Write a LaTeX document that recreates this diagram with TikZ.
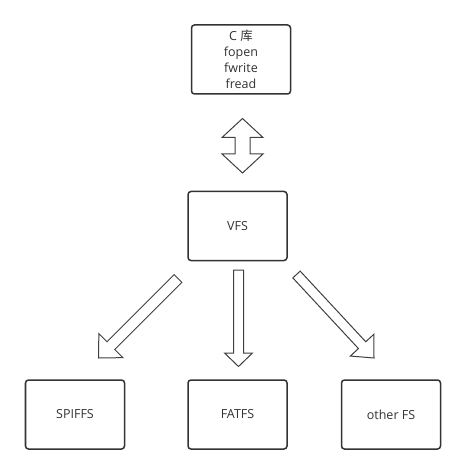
\documentclass[tikz,border=0pt]{standalone}
\usepackage{fontspec}
\setmainfont{Open Sans}
\newfontfamily\cjk{Noto Sans CJK SC}
\usetikzlibrary{calc}

\tikzset{
  fsbox/.style={draw=black!80, line width=1.5bp, rounded corners=3bp, fill=white,
    minimum width=99bp, minimum height=69bp, align=center,
    font=\fontsize{12.5bp}{16bp}\selectfont, text=black!80},
  blockarrow/.style={draw=black!75, line width=1bp, fill=white, line join=miter}
}

%block arrow: from, to, half shaft, half head, head length
\newcommand{\blockarrow}[5]{%
  \coordinate (ahead) at ($(#2)!#5!(#1)$);
  \draw[blockarrow] ($(#1)!#3!90:(#2)$) -- ($(ahead)!#3!90:(#2)$) -- ($(ahead)!#4!90:(#2)$)
    -- (#2) -- ($(ahead)!#4!-90:(#2)$) -- ($(ahead)!#3!-90:(#2)$) -- ($(#1)!#3!-90:(#2)$) -- cycle;
}

\begin{document}
\begin{tikzpicture}[x=1bp,y=-1bp]
		\useasboundingbox[fill=white] (0,0) rectangle (466,475);

		%boxes
		\node[fsbox] (clib) at (241,59.5) {C {\cjk 库}\\fopen\\fwrite\\fread};
		\node[fsbox] (vfs) at (237.5,226) {VFS};
		\foreach \x/\n/\t in {75/spiffs/SPIFFS, 237.5/fatfs/FATFS, 391/otherfs/other FS}
		\node[fsbox] (\n) at (\x,414.5) {\t};

		%double arrow between C lib and VFS
		\coordinate (d1) at (242.5,118.5);
		\coordinate (d2) at (242.5,173);
		\coordinate (h1) at ($(d1)!19bp!(d2)$);
		\coordinate (h2) at ($(d2)!19bp!(d1)$);
		\draw[blockarrow] (d1) -- ($(h1)!20.5bp!90:(d2)$) -- ($(h1)!7.5bp!90:(d2)$) -- ($(h2)!7.5bp!-90:(d1)$)
			-- ($(h2)!20.5bp!-90:(d1)$) -- (d2) -- ($(h2)!20.5bp!90:(d1)$) -- ($(h2)!7.5bp!90:(d1)$)
			-- ($(h1)!7.5bp!-90:(d2)$) -- ($(h1)!20.5bp!-90:(d2)$) -- cycle;

		%arrows from VFS down
		\coordinate (l0) at (178,278.5);
		\coordinate (l1) at (98.5,358);
		\coordinate (m0) at (238.5,270);
		\coordinate (m1) at (238.5,366.5);
		\coordinate (r0) at (296.5,274.5);
		\coordinate (r1) at (374,358);
		\blockarrow{l0}{l1}{5.5bp}{17bp}{17.5bp}
		\blockarrow{m0}{m1}{5bp}{14bp}{13.5bp}
		\blockarrow{r0}{r1}{5bp}{16bp}{17.5bp}
\end{tikzpicture}
\end{document}
